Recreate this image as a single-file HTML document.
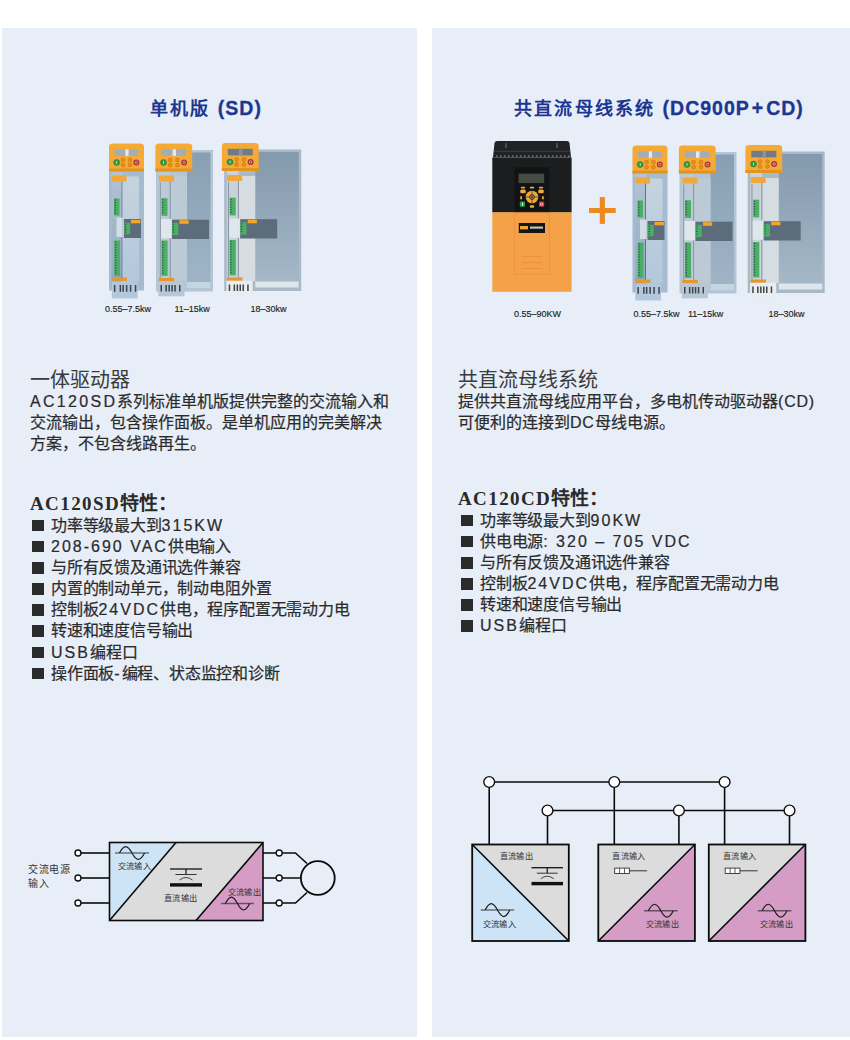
<!DOCTYPE html>
<html lang="zh-CN"><head><meta charset="utf-8">
<style>
html,body{margin:0;padding:0;background:#fff;}
body{width:850px;height:1040px;position:relative;overflow:hidden;font-family:"Liberation Sans",sans-serif;color:#231f20;}
.panel{position:absolute;top:28px;height:1009px;background:#e7eef8;}
#pl{left:2px;width:415px;}
#pr{left:432px;width:418px;}
.abs{position:absolute;white-space:nowrap;}
.h1l{font-size:19.5px;letter-spacing:1px;-webkit-text-stroke:0.3px #1c3692;}
.h1{font-weight:bold;color:#1c3692;font-size:18px;line-height:20px;letter-spacing:2.2px;}
.h2{font-family:"Liberation Serif",serif;font-size:20px;line-height:22px;color:#3a3a3a;}
.h3{font-family:"Liberation Serif",serif;font-weight:bold;font-size:19px;line-height:22px;color:#2a2a2a;}
.lt{letter-spacing:1.9px;}
.lt4{letter-spacing:2.3px;}
.feat .lt{letter-spacing:2.0px;}
.lt2{letter-spacing:0.8px;}
.lt3{letter-spacing:1.4px;}
.body{font-size:16px;line-height:21px;-webkit-text-stroke:0.22px #2b2b2b;color:#2b2b2b;}
.lbl{font-size:9px;line-height:10px;color:#1e1e1e;-webkit-text-stroke:0.15px #1e1e1e;}
.feat{font-size:16px;line-height:21.1px;letter-spacing:-0.2px;-webkit-text-stroke:0.22px #2b2b2b;color:#2b2b2b;}
.feat div{position:relative;padding-left:21px;}
.feat div:before{content:"";position:absolute;left:2px;top:5px;width:11.6px;height:11.4px;background:#2b2b2b;}
</style></head><body>
<div class="panel" id="pl"></div>
<div class="panel" id="pr"></div>
<svg class="abs" style="left:0;top:0" width="850" height="330" viewBox="0 0 850 330"><defs><linearGradient id="gN1" x1="0" y1="0" x2="0" y2="1"><stop offset="0" stop-color="#b3c4d4"/><stop offset="1" stop-color="#8ea8bf"/></linearGradient><linearGradient id="gN2" x1="0" y1="0" x2="0" y2="1"><stop offset="0" stop-color="#c6d3de"/><stop offset="1" stop-color="#b2c8dc"/></linearGradient><linearGradient id="gP2" x1="0" y1="0" x2="0" y2="1"><stop offset="0" stop-color="#889fb3"/><stop offset="1" stop-color="#9fb5c7"/></linearGradient><linearGradient id="gP3" x1="0" y1="0" x2="0" y2="1"><stop offset="0" stop-color="#8399ac"/><stop offset="1" stop-color="#a4b8c8"/></linearGradient></defs><g id="grp"><rect x="109" y="169.5" width="35" height="121" fill="#a6bbd0"/><rect x="111.5" y="171.5" width="11" height="117" fill="url(#gN1)"/><rect x="121.6" y="176.5" width="0.9" height="103" fill="#5a6b7c"/><rect x="122.5" y="176.5" width="16.5" height="105" fill="url(#gN2)"/><rect x="112" y="175.5" width="14.5" height="6" fill="#f2a73a"/><rect x="114.0" y="198.5" width="5.5" height="17" fill="#4aae66"/><rect x="114.6" y="199.5" width="1.3" height="1.1" fill="#1f5a30"/><rect x="114.6" y="202.1" width="1.3" height="1.1" fill="#1f5a30"/><rect x="114.6" y="204.7" width="1.3" height="1.1" fill="#1f5a30"/><rect x="114.6" y="207.3" width="1.3" height="1.1" fill="#1f5a30"/><rect x="114.6" y="209.9" width="1.3" height="1.1" fill="#1f5a30"/><rect x="114.6" y="212.5" width="1.3" height="1.1" fill="#1f5a30"/><rect x="116.5" y="217.5" width="6" height="19.5" fill="#d3dde6"/><rect x="124" y="219.0" width="17" height="19" fill="#5d6c7a"/><rect x="131" y="219.9" width="9.4" height="3.4" fill="#f5a623"/><rect x="124.5" y="222.8" width="5.7" height="11.4" fill="#4aae66"/><rect x="125.1" y="223.8" width="1.3" height="1.1" fill="#1f5a30"/><rect x="125.1" y="226.4" width="1.3" height="1.1" fill="#1f5a30"/><rect x="125.1" y="229.0" width="1.3" height="1.1" fill="#1f5a30"/><rect x="125.1" y="231.6" width="1.3" height="1.1" fill="#1f5a30"/><rect x="114.3" y="240.5" width="5.7" height="35.6" fill="#4aae66"/><rect x="114.9" y="241.5" width="1.3" height="1.1" fill="#1f5a30"/><rect x="114.9" y="244.1" width="1.3" height="1.1" fill="#1f5a30"/><rect x="114.9" y="246.7" width="1.3" height="1.1" fill="#1f5a30"/><rect x="114.9" y="249.3" width="1.3" height="1.1" fill="#1f5a30"/><rect x="114.9" y="251.9" width="1.3" height="1.1" fill="#1f5a30"/><rect x="114.9" y="254.5" width="1.3" height="1.1" fill="#1f5a30"/><rect x="114.9" y="257.1" width="1.3" height="1.1" fill="#1f5a30"/><rect x="114.9" y="259.7" width="1.3" height="1.1" fill="#1f5a30"/><rect x="114.9" y="262.3" width="1.3" height="1.1" fill="#1f5a30"/><rect x="114.9" y="264.9" width="1.3" height="1.1" fill="#1f5a30"/><rect x="114.9" y="267.5" width="1.3" height="1.1" fill="#1f5a30"/><rect x="114.9" y="270.1" width="1.3" height="1.1" fill="#1f5a30"/><rect x="114.9" y="272.7" width="1.3" height="1.1" fill="#1f5a30"/><rect x="112.3" y="277.5" width="14.7" height="3.3" fill="#e9952a"/><rect x="111.8" y="281.5" width="25.8" height="17" fill="#b3c8dc"/><rect x="113.9" y="285.0" width="1.5" height="6.8" fill="#3d434a"/><rect x="119.6" y="285.0" width="1.5" height="6.8" fill="#3d434a"/><rect x="122.4" y="285.0" width="1.5" height="6.8" fill="#3d434a"/><rect x="125.9" y="285.0" width="1.5" height="6.8" fill="#3d434a"/><rect x="129.8" y="285.0" width="1.5" height="6.8" fill="#3d434a"/><rect x="134.8" y="285.0" width="1.5" height="6.8" fill="#3d434a"/><path d="M109,171.5 L109,146.5 Q109,143.5 113,143.5 L140,143.5 Q144,143.5 144,146.5 L144,171.5 Z" fill="#f5aa35"/><rect x="109" y="168.5" width="35" height="3" fill="#e39420"/><rect x="114.6" y="149.3" width="23.8" height="6.6" fill="#a3adb6"/><rect x="125.3" y="149.3" width="3.3" height="6.6" fill="#e3e8ec"/><circle cx="116.7" cy="162.5" r="3" fill="#2f9a44" stroke="#1f7a30" stroke-width="0.5"/><circle cx="136.3" cy="162.5" r="3" fill="#a8343c"/><rect x="116.3" y="161.1" width="0.8" height="2.8" fill="#d8f0dc"/><circle cx="136.3" cy="162.5" r="1.3" fill="none" stroke="#f0d0d4" stroke-width="0.6"/><circle cx="123.0" cy="160.0" r="1.9" fill="#ec8f1e" stroke="#b96c12" stroke-width="0.5"/><circle cx="123.0" cy="165.0" r="1.9" fill="#ec8f1e" stroke="#b96c12" stroke-width="0.5"/><circle cx="130.0" cy="160.0" r="1.9" fill="#ec8f1e" stroke="#b96c12" stroke-width="0.5"/><circle cx="130.0" cy="165.0" r="1.9" fill="#ec8f1e" stroke="#b96c12" stroke-width="0.5"/><rect x="156" y="150.0" width="57" height="141.5" fill="#b4c5d4"/><rect x="187" y="152.5" width="23.5" height="130" fill="url(#gP2)"/><rect x="158.5" y="171.5" width="12" height="117" fill="#bccad6"/><rect x="170.5" y="176.5" width="16.5" height="105" fill="#bccad6"/><rect x="169.7" y="176.5" width="0.9" height="103" fill="#7f8f9c"/><rect x="159.8" y="182.5" width="0.9" height="96" fill="#7d8fa0"/><rect x="187" y="282.0" width="23.5" height="6" fill="#c5d6e3"/><rect x="159" y="175.5" width="15" height="6" fill="#f2a73a"/><rect x="161.5" y="198.2" width="6" height="17.7" fill="#4aae66"/><rect x="162.1" y="199.2" width="1.3" height="1.1" fill="#1f5a30"/><rect x="162.1" y="201.8" width="1.3" height="1.1" fill="#1f5a30"/><rect x="162.1" y="204.4" width="1.3" height="1.1" fill="#1f5a30"/><rect x="162.1" y="207.0" width="1.3" height="1.1" fill="#1f5a30"/><rect x="162.1" y="209.6" width="1.3" height="1.1" fill="#1f5a30"/><rect x="162.1" y="212.2" width="1.3" height="1.1" fill="#1f5a30"/><rect x="161" y="219.0" width="10.5" height="19.3" fill="#dfe6ec"/><rect x="172" y="219.7" width="37" height="19.3" fill="#5d6c7a"/><rect x="179.5" y="220.2" width="9.2" height="3.6" fill="#f5a623"/><rect x="172.2" y="222.8" width="6.1" height="12.3" fill="#4aae66"/><rect x="172.8" y="223.8" width="1.3" height="1.1" fill="#1f5a30"/><rect x="172.8" y="226.4" width="1.3" height="1.1" fill="#1f5a30"/><rect x="172.8" y="229.0" width="1.3" height="1.1" fill="#1f5a30"/><rect x="172.8" y="231.6" width="1.3" height="1.1" fill="#1f5a30"/><rect x="161.5" y="240.5" width="6.1" height="35.4" fill="#4aae66"/><rect x="162.1" y="241.5" width="1.3" height="1.1" fill="#1f5a30"/><rect x="162.1" y="244.1" width="1.3" height="1.1" fill="#1f5a30"/><rect x="162.1" y="246.7" width="1.3" height="1.1" fill="#1f5a30"/><rect x="162.1" y="249.3" width="1.3" height="1.1" fill="#1f5a30"/><rect x="162.1" y="251.9" width="1.3" height="1.1" fill="#1f5a30"/><rect x="162.1" y="254.5" width="1.3" height="1.1" fill="#1f5a30"/><rect x="162.1" y="257.1" width="1.3" height="1.1" fill="#1f5a30"/><rect x="162.1" y="259.7" width="1.3" height="1.1" fill="#1f5a30"/><rect x="162.1" y="262.3" width="1.3" height="1.1" fill="#1f5a30"/><rect x="162.1" y="264.9" width="1.3" height="1.1" fill="#1f5a30"/><rect x="162.1" y="267.5" width="1.3" height="1.1" fill="#1f5a30"/><rect x="162.1" y="270.1" width="1.3" height="1.1" fill="#1f5a30"/><rect x="162.1" y="272.7" width="1.3" height="1.1" fill="#1f5a30"/><rect x="158.8" y="278.0" width="15.4" height="3.3" fill="#e9952a"/><rect x="158.3" y="281.3" width="26.2" height="15" fill="#b7c7d6"/><rect x="160.5" y="285.0" width="1.5" height="6.5" fill="#3d434a"/><rect x="165.4" y="285.0" width="1.5" height="6.5" fill="#3d434a"/><rect x="168.4" y="285.0" width="1.5" height="6.5" fill="#3d434a"/><rect x="171.3" y="285.0" width="1.5" height="6.5" fill="#3d434a"/><rect x="174.3" y="285.0" width="1.5" height="6.5" fill="#3d434a"/><rect x="179" y="285.0" width="1.5" height="6.5" fill="#3d434a"/><path d="M155.4,171.5 L155.4,146.5 Q155.4,143.5 159.4,143.5 L188.2,143.5 Q192.2,143.5 192.2,146.5 L192.2,171.5 Z" fill="#f5aa35"/><rect x="155.4" y="168.5" width="36.8" height="3" fill="#e39420"/><rect x="161.3" y="149.3" width="25.0" height="6.6" fill="#a3adb6"/><rect x="172.5" y="149.3" width="3.5" height="6.6" fill="#e3e8ec"/><circle cx="163.5" cy="162.5" r="3" fill="#2f9a44" stroke="#1f7a30" stroke-width="0.5"/><circle cx="184.1" cy="162.5" r="3" fill="#a8343c"/><rect x="163.1" y="161.1" width="0.8" height="2.8" fill="#d8f0dc"/><circle cx="184.1" cy="162.5" r="1.3" fill="none" stroke="#f0d0d4" stroke-width="0.6"/><circle cx="170.1" cy="160.0" r="1.9" fill="#ec8f1e" stroke="#b96c12" stroke-width="0.5"/><circle cx="170.1" cy="165.0" r="1.9" fill="#ec8f1e" stroke="#b96c12" stroke-width="0.5"/><circle cx="177.5" cy="160.0" r="1.9" fill="#ec8f1e" stroke="#b96c12" stroke-width="0.5"/><circle cx="177.5" cy="165.0" r="1.9" fill="#ec8f1e" stroke="#b96c12" stroke-width="0.5"/><rect x="224.2" y="149.5" width="77" height="141.5" fill="#a9b9c7"/><rect x="255.2" y="152" width="43.5" height="130" fill="url(#gP3)"/><rect x="226.7" y="171" width="12" height="117" fill="#c9d2d8"/><rect x="238.7" y="176" width="16.5" height="105" fill="#d5dde2"/><rect x="237.89999999999998" y="176" width="0.9" height="103" fill="#7f8f9c"/><rect x="228.0" y="182" width="0.9" height="96" fill="#7d8fa0"/><rect x="255.2" y="281.5" width="43.5" height="6" fill="#dde6ec"/><rect x="227.2" y="175" width="15" height="6" fill="#f2a73a"/><rect x="229.7" y="197.7" width="6" height="17.7" fill="#4aae66"/><rect x="230.3" y="198.7" width="1.3" height="1.1" fill="#1f5a30"/><rect x="230.3" y="201.3" width="1.3" height="1.1" fill="#1f5a30"/><rect x="230.3" y="203.9" width="1.3" height="1.1" fill="#1f5a30"/><rect x="230.3" y="206.5" width="1.3" height="1.1" fill="#1f5a30"/><rect x="230.3" y="209.1" width="1.3" height="1.1" fill="#1f5a30"/><rect x="230.3" y="211.7" width="1.3" height="1.1" fill="#1f5a30"/><rect x="229.2" y="218.5" width="10.5" height="19.3" fill="#dfe6ec"/><rect x="240.2" y="219.2" width="37" height="19.3" fill="#5d6c7a"/><rect x="247.7" y="219.7" width="9.2" height="3.6" fill="#f5a623"/><rect x="240.4" y="222.3" width="6.1" height="12.3" fill="#4aae66"/><rect x="241.0" y="223.3" width="1.3" height="1.1" fill="#1f5a30"/><rect x="241.0" y="225.9" width="1.3" height="1.1" fill="#1f5a30"/><rect x="241.0" y="228.5" width="1.3" height="1.1" fill="#1f5a30"/><rect x="241.0" y="231.1" width="1.3" height="1.1" fill="#1f5a30"/><rect x="229.7" y="240.0" width="6.1" height="35.4" fill="#4aae66"/><rect x="230.3" y="241.0" width="1.3" height="1.1" fill="#1f5a30"/><rect x="230.3" y="243.6" width="1.3" height="1.1" fill="#1f5a30"/><rect x="230.3" y="246.2" width="1.3" height="1.1" fill="#1f5a30"/><rect x="230.3" y="248.8" width="1.3" height="1.1" fill="#1f5a30"/><rect x="230.3" y="251.4" width="1.3" height="1.1" fill="#1f5a30"/><rect x="230.3" y="254.0" width="1.3" height="1.1" fill="#1f5a30"/><rect x="230.3" y="256.6" width="1.3" height="1.1" fill="#1f5a30"/><rect x="230.3" y="259.2" width="1.3" height="1.1" fill="#1f5a30"/><rect x="230.3" y="261.8" width="1.3" height="1.1" fill="#1f5a30"/><rect x="230.3" y="264.4" width="1.3" height="1.1" fill="#1f5a30"/><rect x="230.3" y="267.0" width="1.3" height="1.1" fill="#1f5a30"/><rect x="230.3" y="269.6" width="1.3" height="1.1" fill="#1f5a30"/><rect x="230.3" y="272.2" width="1.3" height="1.1" fill="#1f5a30"/><rect x="227.0" y="277.5" width="15.4" height="3.3" fill="#e9952a"/><rect x="226.5" y="280.8" width="26.2" height="15" fill="#e9edf0"/><rect x="228.7" y="284.5" width="1.5" height="6.5" fill="#3d434a"/><rect x="233.6" y="284.5" width="1.5" height="6.5" fill="#3d434a"/><rect x="236.6" y="284.5" width="1.5" height="6.5" fill="#3d434a"/><rect x="239.5" y="284.5" width="1.5" height="6.5" fill="#3d434a"/><rect x="242.5" y="284.5" width="1.5" height="6.5" fill="#3d434a"/><rect x="247.2" y="284.5" width="1.5" height="6.5" fill="#3d434a"/><path d="M221.89999999999998,171 L221.89999999999998,146 Q221.89999999999998,143 225.89999999999998,143 L254.7,143 Q258.7,143 258.7,146 L258.7,171 Z" fill="#f5aa35"/><rect x="221.89999999999998" y="168" width="36.8" height="3" fill="#e39420"/><rect x="227.8" y="148.8" width="25.0" height="6.6" fill="#6f7b86"/><rect x="239.0" y="148.8" width="3.5" height="6.6" fill="#8a949d"/><circle cx="230.0" cy="162" r="3" fill="#2f9a44" stroke="#1f7a30" stroke-width="0.5"/><circle cx="250.6" cy="162" r="3" fill="#a8343c"/><rect x="229.6" y="160.6" width="0.8" height="2.8" fill="#d8f0dc"/><circle cx="250.6" cy="162" r="1.3" fill="none" stroke="#f0d0d4" stroke-width="0.6"/><circle cx="236.6" cy="159.5" r="1.9" fill="#ec8f1e" stroke="#b96c12" stroke-width="0.5"/><circle cx="236.6" cy="164.5" r="1.9" fill="#ec8f1e" stroke="#b96c12" stroke-width="0.5"/><circle cx="244.0" cy="159.5" r="1.9" fill="#ec8f1e" stroke="#b96c12" stroke-width="0.5"/><circle cx="244.0" cy="164.5" r="1.9" fill="#ec8f1e" stroke="#b96c12" stroke-width="0.5"/></g><use href="#grp" transform="translate(523.5,2)"/><path d="M497,141 L567,141 Q569,141 569.5,143 L571,157.5 L493,157.5 L494.5,143 Q495,141 497,141 Z" fill="#202224"/><rect x="494" y="150.8" width="76" height="1" fill="#3b3f43"/><rect x="496" y="155.3" width="1.6" height="2" fill="#6b6f73"/><rect x="500" y="155.3" width="1.6" height="2" fill="#6b6f73"/><rect x="504" y="155.3" width="1.6" height="2" fill="#6b6f73"/><rect x="508" y="155.3" width="1.6" height="2" fill="#6b6f73"/><rect x="512" y="155.3" width="1.6" height="2" fill="#6b6f73"/><rect x="516" y="155.3" width="1.6" height="2" fill="#6b6f73"/><rect x="520" y="155.3" width="1.6" height="2" fill="#6b6f73"/><rect x="524" y="155.3" width="1.6" height="2" fill="#6b6f73"/><rect x="528" y="155.3" width="1.6" height="2" fill="#6b6f73"/><rect x="532" y="155.3" width="1.6" height="2" fill="#6b6f73"/><rect x="536" y="155.3" width="1.6" height="2" fill="#6b6f73"/><rect x="540" y="155.3" width="1.6" height="2" fill="#6b6f73"/><rect x="544" y="155.3" width="1.6" height="2" fill="#6b6f73"/><rect x="548" y="155.3" width="1.6" height="2" fill="#6b6f73"/><rect x="552" y="155.3" width="1.6" height="2" fill="#6b6f73"/><rect x="556" y="155.3" width="1.6" height="2" fill="#6b6f73"/><rect x="560" y="155.3" width="1.6" height="2" fill="#6b6f73"/><rect x="564" y="155.3" width="1.6" height="2" fill="#6b6f73"/><rect x="568" y="155.3" width="1.6" height="2" fill="#6b6f73"/><path d="M505,144 q0,-1 1,-1 q1,0 1,1 v4 h-2 Z M556,144 q0,-1 1,-1 q1,0 1,1 v4 h-2 Z" fill="#4a4e52"/><rect x="492.3" y="157.5" width="79.3" height="55" fill="#1c1d1f"/><rect x="492.3" y="212.3" width="79.3" height="79.5" fill="#f4a148"/><rect x="514.6" y="167.4" width="34.7" height="45" fill="#121314"/><rect x="514.6" y="212.3" width="34.7" height="61.7" fill="none" stroke="#ec8e3e" stroke-width="0.7"/><rect x="518.5" y="173.6" width="25.7" height="9.5" fill="#434d44"/><rect x="520.8" y="186.8" width="4.4" height="1.6" rx="0.8" fill="#f0a838"/><rect x="529.8" y="186.8" width="4.4" height="1.6" rx="0.8" fill="#f0a838"/><rect x="538.8" y="186.8" width="4.4" height="1.6" rx="0.8" fill="#f0a838"/><rect x="520.2" y="189.6" width="5.6" height="3.6" rx="1.5" fill="#f0a838"/><rect x="538.2" y="189.6" width="5.6" height="3.6" rx="1.5" fill="#f0a838"/><circle cx="532" cy="197" r="6.3" fill="#f0a838"/><circle cx="532" cy="197" r="2.4" fill="#e39a30" stroke="#1c1d1f" stroke-width="0.8"/><path d="M532,190.7 V203.3 M525.7,197 H538.3" stroke="#1c1d1f" stroke-width="0.6"/><rect x="520.2" y="196" width="1.8" height="3.4" rx="0.9" fill="#f0a838"/><rect x="542" y="196" width="1.8" height="3.4" rx="0.9" fill="#f0a838"/><rect x="529.8" y="205.3" width="4.4" height="2.4" rx="1" fill="#f0a838"/><rect x="519.8" y="201.6" width="5.2" height="5.2" rx="0.6" fill="#2f9a44"/><rect x="539" y="201.6" width="5.2" height="5.2" rx="0.6" fill="#c8323a"/><rect x="522" y="202.6" width="0.9" height="3.2" fill="#fff"/><circle cx="541.6" cy="204.2" r="1.3" fill="none" stroke="#fff" stroke-width="0.7"/><rect x="518.8" y="223" width="26.2" height="10" fill="#151515"/><rect x="520" y="226" width="8" height="3.4" fill="#f5a623"/><rect x="530" y="226.5" width="13" height="2.2" fill="#c0c0c0"/><rect x="522" y="256" width="20" height="0.8" fill="#ec8e3e"/><rect x="522" y="262" width="20" height="0.8" fill="#ec8e3e"/><rect x="522" y="268" width="20" height="0.8" fill="#ec8e3e"/><rect x="589" y="208" width="26.7" height="5" fill="#ea8a1f"/><rect x="599.8" y="197.1" width="5.1" height="26.8" fill="#ea8a1f"/></svg>
<svg class="abs" style="left:0;top:740px;overflow:visible" width="850" height="220" viewBox="0 740 850 220" font-family="Liberation Sans, sans-serif"><polygon points="109.5,842.5 176,842.5 109.5,920.5" fill="#cce4f6"/><polygon points="176,842.5 263,842.5 263,843.0 196,920.5 109.5,920.5" fill="#dcdcdc"/><polygon points="263,842.5 263,920.5 196,920.5" fill="#d59dc6"/><line x1="109.5" y1="920.5" x2="176" y2="842.5" stroke="#0a0a0a" stroke-width="1.6"/><line x1="196" y1="920.5" x2="263" y2="842.5" stroke="#0a0a0a" stroke-width="1.6"/><rect x="109.5" y="842.5" width="153.5" height="78.0" fill="none" stroke="#0a0a0a" stroke-width="1.6"/><line x1="78" y1="853" x2="109.5" y2="853" stroke="#0a0a0a" stroke-width="1.6"/><circle cx="78" cy="853" r="3" fill="#fff" stroke="#111" stroke-width="1.4"/><line x1="78" y1="878" x2="109.5" y2="878" stroke="#0a0a0a" stroke-width="1.6"/><circle cx="78" cy="878" r="3" fill="#fff" stroke="#111" stroke-width="1.4"/><line x1="78" y1="903" x2="109.5" y2="903" stroke="#0a0a0a" stroke-width="1.6"/><circle cx="78" cy="903" r="3" fill="#fff" stroke="#111" stroke-width="1.4"/><line x1="115" y1="853" x2="149" y2="853" stroke="#000" stroke-opacity="0.5" stroke-width="1.5"/><path d="M119.4,853 C124.0,844.4 127.4,844.4 132.0,853 C136.6,861.6 140.0,861.6 144.6,853" fill="none" stroke="#1a1a1a" stroke-width="1.15"/><text x="117.5" y="868.5" font-size="8.2" fill="#333" letter-spacing="0.35">交流输入</text><line x1="170" y1="869" x2="202" y2="869" stroke="#111" stroke-width="1.3"/><line x1="186.0" y1="869" x2="186.0" y2="874.5" stroke="#111" stroke-width="1.2"/><line x1="175.44" y1="874.5" x2="196.56" y2="874.5" stroke="#333" stroke-width="1"/><path d="M179.5,880 Q186.0,875 192.5,880" fill="none" stroke="#333" stroke-width="0.9"/><rect x="170" y="883.2" width="32" height="3.4" fill="#111"/><text x="164" y="901" font-size="8.2" fill="#333" letter-spacing="0.35">直流输出</text><text x="227.5" y="895" font-size="8.2" fill="#333" letter-spacing="0.35">交流输出</text><line x1="221" y1="903.5" x2="254" y2="903.5" stroke="#000" stroke-opacity="0.5" stroke-width="1.5"/><path d="M225.3,903.5 C229.7,894.9 233.1,894.9 237.5,903.5 C241.9,912.1 245.3,912.1 249.7,903.5" fill="none" stroke="#1a1a1a" stroke-width="1.15"/><polyline points="263,853 295.5,853 307,863.5" fill="none" stroke="#0a0a0a" stroke-width="1.6"/><polyline points="263,903 295.5,903 307,892.5" fill="none" stroke="#0a0a0a" stroke-width="1.6"/><line x1="263" y1="878" x2="301" y2="878" stroke="#0a0a0a" stroke-width="1.6"/><circle cx="279.2" cy="853" r="3" fill="#fff" stroke="#111" stroke-width="1.4"/><circle cx="279.2" cy="878" r="3" fill="#fff" stroke="#111" stroke-width="1.4"/><circle cx="279.2" cy="903" r="3" fill="#fff" stroke="#111" stroke-width="1.4"/><circle cx="317.8" cy="878" r="16.9" fill="none" stroke="#0a0a0a" stroke-width="1.8"/><text x="28" y="873" font-size="10" fill="#333" letter-spacing="0.6">交流电源</text><text x="28" y="886.5" font-size="10" fill="#333" letter-spacing="0.6">输入</text><line x1="489.2" y1="782" x2="724.6" y2="782" stroke="#0a0a0a" stroke-width="1.6"/><line x1="547.5" y1="810.5" x2="789.5" y2="810.5" stroke="#0a0a0a" stroke-width="1.6"/><line x1="489.2" y1="782" x2="489.2" y2="844.5" stroke="#0a0a0a" stroke-width="1.6"/><line x1="614.3" y1="782" x2="614.3" y2="844.5" stroke="#0a0a0a" stroke-width="1.6"/><line x1="724.6" y1="782" x2="724.6" y2="844.5" stroke="#0a0a0a" stroke-width="1.6"/><line x1="547.5" y1="810.5" x2="547.5" y2="844.5" stroke="#0a0a0a" stroke-width="1.6"/><line x1="678.9" y1="810.5" x2="678.9" y2="844.5" stroke="#0a0a0a" stroke-width="1.6"/><line x1="789.5" y1="810.5" x2="789.5" y2="844.5" stroke="#0a0a0a" stroke-width="1.6"/><rect x="472.2" y="844.5" width="96.6" height="96.5" fill="#dcdcdc"/><polygon points="472.2,844.5 568.8,941.0 472.2,941.0" fill="#cce4f6"/><line x1="472.2" y1="844.5" x2="568.8" y2="941.0" stroke="#0a0a0a" stroke-width="1.6"/><rect x="472.2" y="844.5" width="96.6" height="96.5" fill="none" stroke="#0a0a0a" stroke-width="1.8"/><text x="499.5" y="859.0" font-size="8.2" fill="#333" letter-spacing="0.35">直流输出</text><line x1="531.5" y1="867.7" x2="563.0" y2="867.7" stroke="#111" stroke-width="1.3"/><line x1="547.25" y1="867.7" x2="547.25" y2="873.2" stroke="#111" stroke-width="1.2"/><line x1="536.855" y1="873.2" x2="557.645" y2="873.2" stroke="#333" stroke-width="1"/><path d="M540.75,878.7 Q547.25,873.7 553.75,878.7" fill="none" stroke="#333" stroke-width="0.9"/><rect x="531.5" y="881.9000000000001" width="31.5" height="3.4" fill="#111"/><line x1="480.7" y1="910.1" x2="514.2" y2="910.1" stroke="#000" stroke-opacity="0.5" stroke-width="1.5"/><path d="M485.1,910.1 C489.6,901.5 492.9,901.5 497.5,910.1 C502.0,918.7 505.3,918.7 509.8,910.1" fill="none" stroke="#1a1a1a" stroke-width="1.15"/><text x="482.59999999999997" y="926.5" font-size="8.2" fill="#333" letter-spacing="0.35">交流输入</text><rect x="598.3" y="844.5" width="96.6" height="96.5" fill="#dcdcdc"/><polygon points="694.9,844.5 694.9,941.0 598.3,941.0" fill="#d59dc6"/><line x1="598.3" y1="941.0" x2="694.9" y2="844.5" stroke="#0a0a0a" stroke-width="1.6"/><rect x="598.3" y="844.5" width="96.6" height="96.5" fill="none" stroke="#0a0a0a" stroke-width="1.8"/><text x="612.4" y="859.0" font-size="8.2" fill="#333" letter-spacing="0.35">直流输入</text><rect x="614.6999999999999" y="868.1" width="14.7" height="5.4" fill="#fff" stroke="#333" stroke-width="0.9"/><line x1="619.5999999999999" y1="868.1" x2="619.5999999999999" y2="873.5" stroke="#333" stroke-width="0.8"/><line x1="624.5" y1="868.1" x2="624.5" y2="873.5" stroke="#333" stroke-width="0.8"/><line x1="629.4" y1="870.8" x2="647.0999999999999" y2="870.8" stroke="#333" stroke-width="1"/><line x1="644.0" y1="910.7" x2="677.6999999999999" y2="910.7" stroke="#000" stroke-opacity="0.5" stroke-width="1.5"/><path d="M648.4,910.7 C652.9,902.1 656.3,902.1 660.8,910.7 C665.4,919.3 668.8,919.3 673.3,910.7" fill="none" stroke="#1a1a1a" stroke-width="1.15"/><text x="645.8" y="926.5" font-size="8.2" fill="#333" letter-spacing="0.35">交流输出</text><rect x="708.8" y="844.5" width="96.6" height="96.5" fill="#dcdcdc"/><polygon points="805.4,844.5 805.4,941.0 708.8,941.0" fill="#d59dc6"/><line x1="708.8" y1="941.0" x2="805.4" y2="844.5" stroke="#0a0a0a" stroke-width="1.6"/><rect x="708.8" y="844.5" width="96.6" height="96.5" fill="none" stroke="#0a0a0a" stroke-width="1.8"/><text x="722.9" y="859.0" font-size="8.2" fill="#333" letter-spacing="0.35">直流输入</text><rect x="725.1999999999999" y="868.1" width="14.7" height="5.4" fill="#fff" stroke="#333" stroke-width="0.9"/><line x1="730.0999999999999" y1="868.1" x2="730.0999999999999" y2="873.5" stroke="#333" stroke-width="0.8"/><line x1="735.0" y1="868.1" x2="735.0" y2="873.5" stroke="#333" stroke-width="0.8"/><line x1="739.9" y1="870.8" x2="757.5999999999999" y2="870.8" stroke="#333" stroke-width="1"/><line x1="757.7" y1="910.7" x2="791.4" y2="910.7" stroke="#000" stroke-opacity="0.5" stroke-width="1.5"/><path d="M762.1,910.7 C766.6,902.1 770.0,902.1 774.5,910.7 C779.1,919.3 782.5,919.3 787.0,910.7" fill="none" stroke="#1a1a1a" stroke-width="1.15"/><text x="759.5" y="926.5" font-size="8.2" fill="#333" letter-spacing="0.35">交流输出</text><circle cx="489.2" cy="782" r="5.4" fill="#fff" stroke="#111" stroke-width="1.4"/><circle cx="614.3" cy="782" r="5.4" fill="#fff" stroke="#111" stroke-width="1.4"/><circle cx="724.6" cy="782" r="5.4" fill="#fff" stroke="#111" stroke-width="1.4"/><circle cx="547.5" cy="810.5" r="5.4" fill="#fff" stroke="#111" stroke-width="1.4"/><circle cx="678.9" cy="810.5" r="5.4" fill="#fff" stroke="#111" stroke-width="1.4"/><circle cx="789.5" cy="810.5" r="5.4" fill="#fff" stroke="#111" stroke-width="1.4"/></svg>

<div class="abs h1" style="left:150px;top:97.8px;">单机版 <span class="h1l">(SD)</span></div>
<div class="abs h1" style="left:514px;top:97.8px;">共直流母线系统 <span class="h1l">(DC900P<span style="margin:0 2px">+</span>CD)</span></div>

<div class="abs lbl" style="left:105px;top:304px;">0.55–7.5kw</div>
<div class="abs lbl" style="left:174.5px;top:304px;">11–15kw</div>
<div class="abs lbl" style="left:250.5px;top:304px;">18–30kw</div>

<div class="abs lbl" style="left:514px;top:308.5px;">0.55–90KW</div>
<div class="abs lbl" style="left:633.5px;top:308.5px;">0.55–7.5kw</div>
<div class="abs lbl" style="left:688px;top:308.5px;">11–15kw</div>
<div class="abs lbl" style="left:768.5px;top:308.5px;">18–30kw</div>

<div class="abs h2" style="left:30px;top:368.5px;">一体驱动器</div>
<div class="abs body" style="left:30px;top:390.5px;"><span class="lt4">AC120SD</span>系列标准单机版提供完整的交流输入和<br>交流输出，包含操作面板。是单机应用的完美解决<br>方案，不包含线路再生。</div>

<div class="abs h2" style="left:458px;top:368.5px;">共直流母线系统</div>
<div class="abs body" style="left:458px;top:390.5px;">提供共直流母线应用平台，多电机传动驱动器<span class="lt2">(CD)</span><br>可便利的连接到<span class="lt2">DC</span>母线电源。</div>

<div class="abs h3" style="left:30px;top:493px;"><span class="lt3">AC120SD</span>特性：</div>
<div class="abs feat" style="left:30px;top:515px;">
<div>功率等级最大到<span class="lt">315KW</span></div>
<div><span class="lt">208-690 VAC</span>供电输入</div>
<div>与所有反馈及通讯选件兼容</div>
<div>内置的制动单元，制动电阻外置</div>
<div>控制板<span class="lt">24VDC</span>供电，程序配置无需动力电</div>
<div>转速和速度信号输出</div>
<div><span class="lt">USB</span>编程口</div>
<div>操作面板<span class="lt">-</span>编程、状态监控和诊断</div>
</div>

<div class="abs h3" style="left:458px;top:488px;"><span class="lt3">AC120CD</span>特性：</div>
<div class="abs feat" style="left:459px;top:510px;">
<div>功率等级最大到<span class="lt">90KW</span></div>
<div>供电电源<span class="lt">: 320 – 705 VDC</span></div>
<div>与所有反馈及通讯选件兼容</div>
<div>控制板<span class="lt">24VDC</span>供电，程序配置无需动力电</div>
<div>转速和速度信号输出</div>
<div><span class="lt">USB</span>编程口</div>
</div>

</body></html>
